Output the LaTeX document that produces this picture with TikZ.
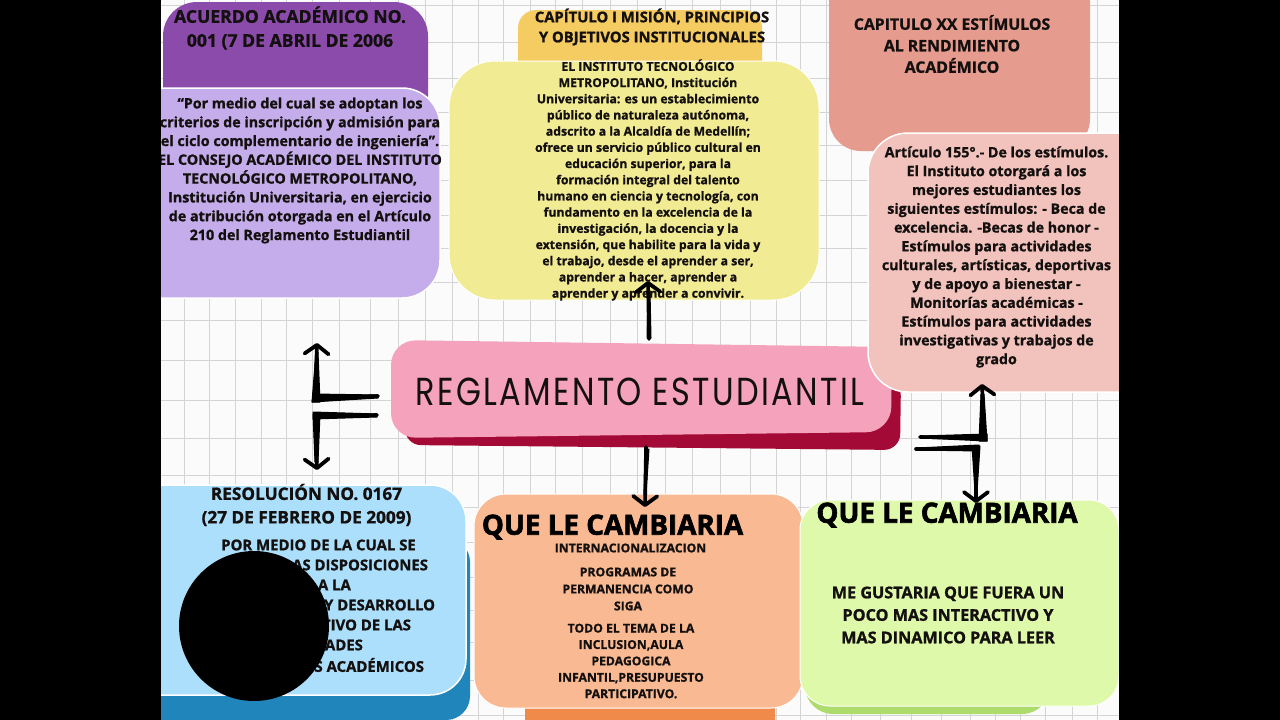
\documentclass[tikz,border=0pt]{standalone}
\usepackage{fontspec}
\usetikzlibrary{arrows.meta}
\setmainfont{Open Sans}[BoldFeatures={FakeBold=1.1}]
\newfontfamily\heavyfont{Open Sans}[BoldFeatures={FakeBold=2.2}]
\newfontfamily\titlefont{Poppins}[LetterSpace=7.5]
\definecolor{ink}{HTML}{14100F}
\definecolor{gridc}{HTML}{D4D4D4}
\definecolor{paper}{HTML}{FBFBFB}
\definecolor{purpleD}{HTML}{8B4BAA}
\definecolor{purpleL}{HTML}{C4ADEA}
\definecolor{yellowD}{HTML}{F5CC62}
\definecolor{yellowL}{HTML}{F1EC93}
\definecolor{salmonD}{HTML}{E59C8F}
\definecolor{salmonL}{HTML}{F2C3BD}
\definecolor{pinkM}{HTML}{F5A3BC}
\definecolor{crimson}{HTML}{A30A35}
\definecolor{blueL}{HTML}{ABDFFB}
\definecolor{blueD}{HTML}{2085BA}
\definecolor{orangeL}{HTML}{F9BA93}
\definecolor{orangeD}{HTML}{EF8A4A}
\definecolor{greenL}{HTML}{DFF9AA}
\definecolor{greenD}{HTML}{ADDC6C}
\tikzset{
  card/.style={inner sep=0pt,outer sep=0pt,rounded corners=#1},
  card/.default=30pt,
  txt/.style 2 args={inner sep=0pt,outer sep=0pt,align=center,text=ink,font=\fontsize{#1}{#2}\selectfont\bfseries},
  heavytxt/.style={inner sep=0pt,outer sep=0pt,align=center,text=black,font=\fontsize{#1}{30}\selectfont\heavyfont\bfseries},
  link/.style={line width=3.6pt,draw=black,line join=round,line cap=round,
    -{Straight Barb[length=9pt,width=24pt,line width=3.8pt,round]}},
  taper/.style={fill=black,line join=round,draw=black,line width=1pt},
}
\begin{document}
\begin{tikzpicture}[x=1pt,y=-1pt]
\useasboundingbox (0,0) rectangle (1280,720);
\fill[paper] (0,0) rectangle (1280,720);
\foreach \gx in {184,209,235,261,286,312,339,370,398,425,452,478,503,530,555,582,610,637,665,692,720,750,776,800,826,851,880,911,941,970,995,1020,1045,1072,1097}
  \draw[gridc,line width=0.8pt] (\gx,0) -- (\gx,720);
\foreach \gy in {5,42,78,112,145,180,215,248,282,320,360,400,438,475,507,542,577,610,642,680,715}
  \draw[gridc,line width=0.8pt] (160,\gy) -- (1120,\gy);
% cards
\path[fill=purpleD,card=34pt] (163,2) rectangle (428,130);
\path[fill=purpleL,draw=white,line width=1.5pt,rounded corners=38pt] (120,88) -- (440,88) -- (440,298) -- (120,298) -- cycle;
\path[fill=yellowD,rounded corners=18pt] (518,10) -- (762,10) -- (762,90) -- (518,90) -- cycle;
\path[fill=yellowL,draw=white,line width=1pt,card=46pt] (449,61) rectangle (819,300);
\path[fill=salmonD,card=32pt] (829,-30) rectangle (1090,151);
\path[fill=crimson,rounded corners=16pt] (405,380) -- (901,380) -- (900,450) -- (405,445) -- cycle;
\path[fill=pinkM,rounded corners=25pt] (391,340) -- (892,347) -- (891,432) -- (391,438) -- cycle;
\path[fill=salmonL,draw=white,line width=1.5pt,card=40pt] (868,133) rectangle (1160,392);
\path[fill=blueD,card=24pt] (130,538) rectangle (470,720);
\path[fill=blueL,draw=white,line width=1.5pt,card=36pt] (120,485) rectangle (466,695);
\path[fill=orangeD,card=16pt] (525,650) rectangle (775,740);
\path[fill=orangeL,draw=white,line width=1pt,card=32pt] (474,494) rectangle (803,708);
\path[fill=greenD,card=28pt] (805,640) rectangle (1050,714);
\path[fill=greenL,draw=white,line width=1pt,card=30pt] (800,500) rectangle (1119,706);
\node[inner sep=0pt,text=ink,font=\fontsize{32}{36}\selectfont\titlefont] (main) at (640,392) {\scalebox{1}[1.22]{REGLAMENTO ESTUDIANTIL}};
% text
\node[txt={17.6}{24}] (t1) at (290,28) {ACUERDO ACADÉMICO NO.\\001 (7 DE ABRIL DE 2006};
\node[txt={14.3}{18.8}] (b1) at (300,170.5) {“Por medio del cual se adoptan los\\criterios de inscripción y admisión para\\el ciclo complementario de ingeniería”.\\EL CONSEJO ACADÉMICO DEL INSTITUTO\\TECNOLÓGICO METROPOLITANO,\\Institución Universitaria, en ejercicio\\de atribución otorgada en el Artículo\\210 del Reglamento Estudiantil};
\node[txt={14.8}{20}] (t2) at (652,27) {CAPÍTULO I MISIÓN, PRINCIPIOS\\Y OBJETIVOS INSTITUCIONALES};
\node[txt={12.25}{16.2}] (b2) at (648,180) {EL INSTITUTO TECNOLÓGICO\\METROPOLITANO, Institución\\Universitaria: es un establecimiento\\público de naturaleza autónoma,\\adscrito a la Alcaldía de Medellín;\\ofrece un servicio público cultural en\\educación superior, para la\\formación integral del talento\\humano en ciencia y tecnología, con\\fundamento en la excelencia de la\\investigación, la docencia y la\\extensión, que habilite para la vida y\\el trabajo, desde el aprender a ser,\\aprender a hacer, aprender a\\aprender y aprender a convivir.};
\node[txt={15.8}{21.5}] (t3) at (952,44) {CAPITULO XX ESTÍMULOS\\AL RENDIMIENTO\\ACADÉMICO};
\node[txt={14.25}{18.8}] (b3) at (996.5,257) {Artículo 155°.- De los estímulos.\\El Instituto otorgará a los\\mejores estudiantes los\\siguientes estímulos: - Beca de\\excelencia. -Becas de honor -\\Estímulos para actividades\\culturales, artísticas, deportivas\\y de apoyo a bienestar -\\Monitorías académicas -\\Estímulos para actividades\\investigativas y trabajos de\\grado};
\node[txt={17.2}{23.5}] (t4) at (306.5,505) {RESOLUCIÓN NO. 0167\\(27 DE FEBRERO DE 2009)};
\node[txt={14.9}{20}] (b4a) at (318.5,545) {POR MEDIO DE LA CUAL SE};
\node[txt={14.9}{20},anchor=east] (b4b) at (428,565) {AS DISPOSICIONES};
\node[txt={14.9}{20},anchor=west] (b4c) at (318,585) {A LA};
\node[txt={14.9}{20},anchor=east] (b4d) at (435,605) {Y DESARROLLO};
\node[txt={14.9}{20},anchor=east] (b4e) at (411,625) {TIVO DE LAS};
\node[txt={14.9}{20},anchor=west] (b4f) at (325,645) {ADES};
\node[txt={14.9}{20},anchor=east] (b4g) at (424,665) {S ACADÉMICOS};
\node[heavytxt=27.8] (t5) at (612.5,527) {QUE LE CAMBIARIA};
\node[txt={12.2}{16}] (b5a) at (630.5,548) {INTERNACIONALIZACION};
\node[txt={12.2}{17}] (b5b) at (628,589) {PROGRAMAS DE\\PERMANENCIA COMO\\SIGA};
\node[txt={12.2}{16.4}] (b5c) at (631,661) {TODO EL TEMA DE LA\\INCLUSION,AULA\\PEDAGOGICA\\INFANTIL,PRESUPUESTO\\PARTICIPATIVO.};
\node[heavytxt=27.8] (t6) at (947,515) {QUE LE CAMBIARIA};
\node[txt={16.2}{22.5}] (b6) at (948,615) {ME GUSTARIA QUE FUERA UN\\POCO MAS INTERACTIVO Y\\MAS DINAMICO PARA LEER};
% connectors
\coordinate (a1a) at (378,396); \coordinate (a1b) at (315,398); \coordinate (a1c) at (317,343);
\coordinate (a2a) at (377,415); \coordinate (a2b) at (315,416); \coordinate (a2c) at (317,470);
\coordinate (a3a) at (649,339); \coordinate (a3c) at (648,281);
\coordinate (a4a) at (646,447); \coordinate (a4c) at (645,507);
\coordinate (a5a) at (920,437); \coordinate (a5b) at (984,438); \coordinate (a5c) at (982,384);
\coordinate (a6a) at (916,449); \coordinate (a6b) at (976,449); \coordinate (a6c) at (976,503);
\draw[link] (a1a) -- (a1b) -- (a1c);
\draw[link] (a2a) -- (a2b) -- (a2c);
\draw[link] (a3a) -- (a3c);
\draw[link] (a4a) -- (a4c);
\draw[link] (a5a) -- (a5b) -- (a5c);
\draw[link] (a6a) -- (a6b) -- (a6c);
% tapering of the hand-drawn strokes
\path[taper] (378,395) -- (314,394) -- (312,402) -- (378,398) -- cycle;
\path[taper] (316,352) -- (312,402) -- (320,402) -- (318,352) -- cycle;
\path[taper] (377,414) -- (313,412) -- (313,419) -- (377,417) -- cycle;
\path[taper] (313,414) -- (315,462) -- (318,462) -- (320,414) -- cycle;
\path[taper] (648,291) -- (647,338) -- (651,338) -- (650,291) -- cycle;
\path[taper] (645,449) -- (644,495) -- (646,495) -- (649,449) -- cycle;
\path[taper] (921,436) -- (987,434) -- (987,441) -- (921,438) -- cycle;
\path[taper] (981,394) -- (979,441) -- (987,441) -- (984,394) -- cycle;
\path[taper] (916,448) -- (979,445) -- (979,451) -- (916,450) -- cycle;
\path[taper] (972,446) -- (975,492) -- (977,492) -- (980,446) -- cycle;
% masks
\node[circle,fill=black,inner sep=0pt,minimum size=150pt] (blot) at (254,626) {};
\fill[black] (0,0) rectangle (161,720);
\fill[black] (1119,0) rectangle (1280,720);
\end{tikzpicture}
\end{document}
